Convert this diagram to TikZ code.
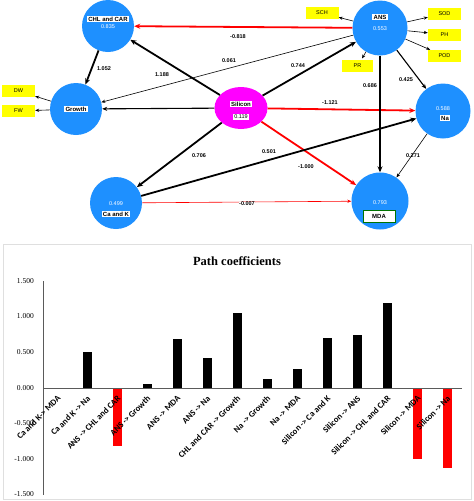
\documentclass[tikz,border=0pt]{standalone}
\usepackage{fontspec}
\setmainfont{Liberation Sans}
\newfontfamily\serifb{Liberation Serif}
\newfontfamily\calib{Carlito}
\usetikzlibrary{arrows.meta,shapes.geometric}
\definecolor{cblue}{RGB}{30,144,255}
\definecolor{cmag}{RGB}{255,0,255}
\definecolor{cyel}{RGB}{255,255,0}
\definecolor{cred}{RGB}{255,0,0}
\definecolor{axgray}{RGB}{90,90,90}
\begin{document}
\begin{tikzpicture}[x=1pt,y=-1pt,
  lat/.style={circle, fill=cblue, minimum size=#1, inner sep=0pt},
  ind/.style={fill=cyel, minimum width=33pt, minimum height=12pt, inner sep=0pt, font=\fontsize{5.5}{6}\selectfont},
  lbl/.style={fill=white, inner sep=1.2pt, font=\bfseries\fontsize{6}{7}\selectfont},
  val/.style={text=white, inner sep=0.5pt, font=\fontsize{5.5}{6}\selectfont},
  coef/.style={inner sep=0.5pt, font=\bfseries\fontsize{5.5}{6}\selectfont},
  bigarr/.style={line width=1.8pt, -{Stealth[length=6pt,width=5pt]}},
  midarr/.style={line width=1.1pt, -{Stealth[length=5pt,width=4pt]}},
  thinarr/.style={line width=0.6pt, -{Stealth[length=4pt,width=3.2pt]}},
  tick/.style={anchor=east, inner sep=0pt, font=\serifb\fontsize{7.5}{8}\selectfont},
  catl/.style={rotate=45, anchor=east, inner sep=0pt, font=\calib\bfseries\fontsize{8.6}{9}\selectfont}
]
\useasboundingbox (0,0) rectangle (474,501);
\fill[white] (0,0) rectangle (474,501);

% ---------- latent variables ----------
\node[lat=52pt] (chl) at (108,26) {};
\node[lat=52pt] (gro) at (76,109) {};
\node[lat=55pt] (ans) at (380,28) {};
\node[lat=55pt] (na)  at (443,111) {};
\node[lat=57pt] (mda) at (380,201) {};
\node[lat=52pt] (cak) at (116,203) {};
\node[ellipse, fill=cmag, minimum width=53pt, minimum height=42pt, inner sep=0pt] (sil) at (241,108) {};

% labels and values
\node[lbl] (chlL) at (108,19) {CHL and CAR};
\node[val] (chlV) at (108,27) {0.835};
\node[lbl] (groL) at (76,109) {Growth};
\node[lbl] (ansL) at (380,17) {ANS};
\node[val] (ansV) at (380,29) {0.553};
\node[lbl] (silL) at (241,104) {Silicon};
\node[lbl, font=\fontsize{5.5}{6}\selectfont] (silV) at (241,117) {0.119};
\node[val] (naV) at (443,109) {0.588};
\node[lbl] (naL) at (445,118) {Na};
\node[val] (mdaV) at (380,203) {0.793};
\node[lbl, draw=green!45!black, line width=0.5pt, minimum width=32pt, minimum height=12pt] (mdaL) at (379,216) {MDA};
\node[val] (cakV) at (116,204) {0.499};
\node[lbl] (cakL) at (116,214) {Ca and K};

% indicators
\node[ind] (dw)  at (18.5,91) {DW};
\node[ind] (fw)  at (18.5,111) {FW};
\node[ind] (sch) at (322,13) {SCH};
\node[ind] (sod) at (444.5,13.5) {SOD};
\node[ind] (ph)  at (444.5,34.5) {PH};
\node[ind] (pod) at (444.5,56) {POD};
\node[ind, minimum width=31pt] (pr) at (357.5,65.5) {PR};
\coordinate (prTop) at (362,58.5);

% indicator arrows
\draw[thinarr] (gro) -- (dw);
\draw[thinarr] (gro) -- (fw);
\draw[thinarr] (ans) -- (sch);
\draw[thinarr] (ans) -- (sod);
\draw[thinarr] (ans) -- (ph);
\draw[thinarr] (ans) -- (pod);
\draw[thinarr] (ans) -- (prTop);

% structural paths
\draw[bigarr, cred] (ans) -- (chl);
\draw[bigarr] (sil) -- (chl);
\draw[bigarr] (chl) -- (gro);
\draw[thinarr] (ans) -- (gro);
\draw[midarr] (sil) -- (gro);
\draw[bigarr] (sil) -- (ans);
\draw[bigarr, cred] (sil) -- (na);
\draw[midarr] (ans) -- (na);
\draw[bigarr] (ans) -- (mda);
\draw[bigarr, cred] (sil) -- (mda);
\draw[bigarr] (sil) -- (cak);
\draw[bigarr] (cak) -- (na);
\draw[thinarr] (na) -- (mda);
\draw[thinarr, cred] (cak) -- (mda);

% path coefficient labels
\node[coef] (c1) at (238,37) {-0.818};
\node[coef] (c2) at (229,61) {0.061};
\node[coef] (c3) at (162,75) {1.188};
\node[coef] (c4) at (104,69) {1.052};
\node[coef] (c5) at (298,66) {0.744};
\node[coef] (c6) at (370,86) {0.686};
\node[coef] (c7) at (406,80) {0.425};
\node[coef] (c8) at (330,103) {-1.121};
\node[coef] (c9) at (199,156) {0.706};
\node[coef] (c10) at (269,152) {0.501};
\node[coef] (c11) at (306,167) {-1.000};
\node[coef] (c12) at (413,156) {0.271};
\node[coef, fill=white] (c13) at (247,204) {-0.007};

% ---------- bar chart ----------
\draw[gray!25, line width=1pt] (3,244) rectangle (471,499);
\node[font=\serifb\bfseries\fontsize{12.5}{14}\selectfont] (title) at (237,261) {Path coefficients};
\node[tick] (t1) at (34,281) {1.500};
\node[tick] (t2) at (34,316.5) {1.000};
\node[tick] (t3) at (34,352) {0.500};
\node[tick] (t4) at (34,388) {0.000};
\node[tick] (t5) at (34,423.5) {-0.500};
\node[tick] (t6) at (34,459) {-1.000};
\node[tick] (t7) at (34,494.5) {-1.500};
\draw[axgray, line width=0.8pt] (43,281) -- (43,495);

\foreach \v [count=\i] in {-0.007, 0.501, -0.818, 0.061, 0.686, 0.425, 1.052,
  0.126, 0.271, 0.706, 0.744, 1.188, -1.000, -1.121}{
  \pgfmathsetmacro\xc{27+30*\i}
  \pgfmathsetmacro\yt{388-71.33*\v}
  \ifdim\v pt<0pt
    \fill[cred] (\xc-4.5,388) rectangle (\xc+4.5,\yt);
  \else
    \fill[black] (\xc-4.5,388) rectangle (\xc+4.5,\yt);
  \fi
}
\draw[axgray, line width=0.9pt] (43,388) -- (462,388);
\foreach \t [count=\i] in {
  {Ca and K-> MDA},
  {Ca and K -> Na},
  {ANS -> CHL and CAR},
  {ANS -> Growth},
  {ANS -> MDA},
  {ANS -> Na},
  {CHL and CAR -> Growth},
  {Na -> Growth},
  {Na -> MDA},
  {Silicon -> Ca and K},
  {Silicon -> ANS},
  {Silicon -> CHL and CAR},
  {Silicon -> MDA},
  {Silicon -> Na}}{
  \pgfmathsetmacro\xc{27+30*\i}
  \node[catl] (cat\i) at (\xc+2,397) {\t};
}
\end{tikzpicture}
\end{document}
